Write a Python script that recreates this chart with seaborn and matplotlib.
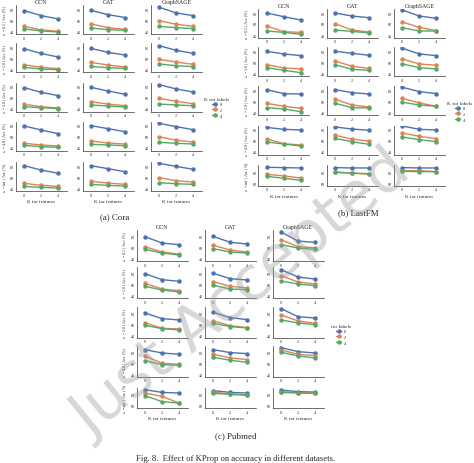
import numpy as np
import pandas as pd
import matplotlib
matplotlib.use("Agg")
import matplotlib.pyplot as plt
import seaborn as sns
from matplotlib.lines import Line2D
from matplotlib.ticker import MultipleLocator

K_FEATURES = [0, 2, 4]
K_LABELS = ["0", "2", "4"]
EPSILONS = ["0.1", "1.0", "2.0", "4.0", "inf"]
MODELS = ["GCN", "GAT", "GraphSAGE"]

# Accuracy (%): one entry per epsilon row; inside, one list per K-for-labels (0, 2, 4),
# each holding values for K-for-features = 0, 2, 4
cora_gcn = [
    [[77.6, 68.5, 62.4], [49.0, 42.4, 40.0], [44.2, 40.6, 38.8]],
    [[78.0, 69.5, 63.0], [49.0, 44.2, 41.8], [44.2, 41.2, 40.0]],
    [[78.8, 70.3, 64.2], [48.5, 44.2, 41.8], [44.2, 42.4, 40.6]],
    [[80.0, 72.7, 66.0], [48.5, 45.5, 43.6], [44.8, 42.4, 41.2]],
    [[81.8, 73.9, 67.9], [49.7, 46.0, 44.2], [44.2, 42.4, 41.2]],
]
cora_gat = [
    [[78.0, 70.3, 65.0], [53.3, 46.7, 43.6], [46.0, 43.0, 41.8]],
    [[78.8, 71.5, 66.7], [53.3, 48.5, 44.8], [46.0, 43.6, 42.4]],
    [[79.4, 72.7, 66.7], [53.3, 49.0, 46.0], [47.3, 45.5, 43.6]],
    [[80.6, 75.2, 69.7], [52.7, 49.0, 47.3], [46.7, 45.5, 44.2]],
    [[81.8, 76.4, 70.9], [53.3, 50.3, 47.9], [47.9, 46.0, 44.8]],
]
cora_sage = [
    [[83.6, 73.3, 68.5], [59.4, 52.7, 49.0], [49.0, 46.7, 44.8]],
    [[83.6, 75.2, 69.7], [58.8, 53.9, 49.7], [50.3, 47.3, 45.5]],
    [[84.2, 76.4, 70.9], [59.4, 53.9, 49.7], [49.0, 47.3, 46.0]],
    [[84.8, 78.8, 73.3], [60.6, 53.9, 50.9], [50.3, 48.5, 47.3]],
    [[86.0, 80.6, 75.2], [60.0, 54.5, 52.1], [50.9, 49.0, 47.9]],
]
lastfm_gcn = [
    [[80.0, 73.3, 67.3], [56.4, 46.0, 44.8], [47.3, 44.8, 41.2]],
    [[80.0, 75.2, 72.1], [55.8, 49.7, 47.9], [50.3, 45.5, 41.2]],
    [[81.2, 73.9, 73.3], [56.4, 50.9, 47.3], [48.5, 46.0, 41.2]],
    [[84.8, 81.2, 80.0], [63.6, 55.2, 52.7], [58.2, 54.5, 50.9]],
    [[89.1, 88.5, 87.9], [76.4, 73.3, 69.7], [72.7, 69.1, 65.5]],
]
lastfm_gat = [
    [[80.0, 74.5, 71.5], [60.6, 49.0, 45.5], [49.0, 46.7, 43.6]],
    [[80.0, 76.4, 72.7], [62.4, 52.7, 49.0], [55.8, 47.3, 45.5]],
    [[81.2, 75.8, 73.3], [63.6, 53.3, 49.7], [56.4, 48.5, 47.9]],
    [[85.5, 81.8, 79.4], [70.3, 63.6, 59.4], [64.8, 58.8, 53.9]],
    [[88.5, 87.9, 87.9], [80.6, 78.8, 76.4], [80.0, 78.2, 77.6]],
]
lastfm_sage = [
    [[85.5, 74.5, 70.3], [63.6, 53.9, 47.9], [53.3, 47.3, 47.3]],
    [[85.5, 75.2, 72.1], [66.1, 57.0, 54.5], [57.0, 50.3, 47.9]],
    [[85.5, 77.6, 73.9], [65.5, 57.0, 50.9], [58.2, 53.3, 50.9]],
    [[87.3, 81.2, 80.0], [74.5, 68.5, 64.2], [67.3, 62.4, 58.8]],
    [[88.5, 87.9, 87.9], [83.0, 83.0, 81.2], [81.8, 81.2, 81.2]],
]
pubmed_gcn = [
    [[80.0, 68.5, 65.5], [61.8, 52.1, 48.5], [57.0, 50.3, 46.7]],
    [[80.6, 69.7, 66.7], [63.0, 52.7, 49.7], [57.6, 50.9, 47.3]],
    [[80.6, 70.3, 67.9], [63.0, 52.7, 51.5], [58.2, 52.1, 49.7]],
    [[84.8, 78.8, 76.4], [73.3, 60.0, 58.2], [64.8, 57.6, 56.4]],
    [[89.1, 84.2, 83.0], [83.0, 77.0, 64.8], [78.2, 67.3, 64.8]],
]
pubmed_gat = [
    [[80.6, 69.7, 66.7], [64.2, 55.8, 52.1], [58.2, 52.1, 50.3]],
    [[81.2, 71.5, 69.1], [66.1, 57.6, 54.5], [59.4, 52.7, 51.5]],
    [[81.8, 72.1, 68.5], [66.1, 57.6, 53.9], [61.8, 55.8, 53.3]],
    [[84.8, 79.4, 77.6], [76.4, 69.7, 66.7], [70.9, 65.5, 61.8]],
    [[87.3, 84.2, 83.0], [84.2, 81.8, 80.0], [82.4, 80.6, 78.8]],
]
pubmed_sage = [
    [[88.5, 72.1, 69.7], [74.5, 61.8, 60.0], [65.5, 59.4, 57.0]],
    [[87.9, 74.5, 70.9], [77.0, 65.5, 61.8], [67.3, 61.8, 58.8]],
    [[88.5, 73.9, 71.5], [77.0, 66.1, 61.8], [67.9, 62.4, 59.4]],
    [[88.5, 81.2, 78.8], [84.2, 76.4, 73.9], [80.0, 73.3, 69.7]],
    [[88.5, 85.5, 84.8], [85.5, 83.6, 83.0], [84.2, 83.0, 82.4]],
]

CAPTIONS = ["(a) Cora", "(b) LastFM", "(c) Pubmed"]
FIG_CAPTION = "Fig. 8.  Effect of KProp on accuracy in different datasets."
LEGEND_TITLES = ["K for labels", "K for labels", "for labels"]
WATERMARK = "Just Accepted"


def to_frame(model_arrays):
    rows = []
    for m, arr in zip(MODELS, model_arrays):
        for ei, eps in enumerate(EPSILONS):
            for li, kl in enumerate(K_LABELS):
                for fi, kf in enumerate(K_FEATURES):
                    rows.append(dict(model=m, eps=eps, k_labels=kl,
                                     k_features=kf, acc=arr[ei][li][fi]))
    return pd.DataFrame(rows)


datasets = [
    to_frame([cora_gcn, cora_gat, cora_sage]),
    to_frame([lastfm_gcn, lastfm_gat, lastfm_sage]),
    to_frame([pubmed_gcn, pubmed_gat, pubmed_sage]),
]

sns.set_theme(style="white")
plt.rcParams["font.family"] = ["Liberation Serif", "DejaVu Serif"]
plt.rcParams["mathtext.fontset"] = "stix"

W, H = 474, 464
fig = plt.figure(figsize=(W / 100, H / 100), dpi=100)
palette = sns.color_palette("deep", 3)

geom = [
    dict(cols=[24.3, 91.0, 159.3], rows=[10.3, 48.7, 88.0, 127.0, 167.7],
         ylims=[(35, 88)] * 5, legend=(217, 95), caption=(115, 217)),
    dict(cols=[266.7, 335.0, 402.3], rows=[14.0, 52.3, 91.3, 131.0, 173.3],
         ylims=[(35, 88)] * 4 + [(55.5, 93.5)], legend=(460, 99), caption=(358, 213)),
    dict(cols=[145.0, 213.3, 281.0], rows=[237.7, 275.0, 314.3, 353.3, 395.7],
         ylims=[(36, 92)] * 4 + [(56, 93)], legend=(341, 322), caption=(236, 436)),
]

XLIM = (-1.0, 5.0)
SX, SY = 8.5, 0.55
MS, LW = 3.2, 1.0


def add_ax(x0, y80, ylim):
    left = x0 + XLIM[0] * SX
    width = (XLIM[1] - XLIM[0]) * SX
    top = y80 - (ylim[1] - 80) * SY
    height = (ylim[1] - ylim[0]) * SY
    return fig.add_axes([left / W, 1 - (top + height) / H, width / W, height / H])


for di, (df, g) in enumerate(zip(datasets, geom)):
    for ri, eps in enumerate(EPSILONS):
        for ci, model in enumerate(MODELS):
            ax = add_ax(g["cols"][ci], g["rows"][ri], g["ylims"][ri])
            sub = df[(df.model == model) & (df.eps == eps)]
            sns.lineplot(data=sub, x="k_features", y="acc", hue="k_labels",
                         hue_order=K_LABELS, palette=palette, marker="o",
                         markersize=MS, markeredgewidth=0, linewidth=LW,
                         legend=False, ax=ax)
            ax.set_xlim(XLIM)
            ax.set_ylim(g["ylims"][ri])
            ax.set_xticks(K_FEATURES)
            ax.yaxis.set_major_locator(MultipleLocator(20))
            ax.tick_params(labelsize=3, pad=1.2, length=0)
            sns.despine(ax=ax)
            for s in ("left", "bottom"):
                ax.spines[s].set_linewidth(0.5)
                ax.spines[s].set_color("#333333")
            if ri == 0:
                ax.set_title(model, fontsize=4.2, pad=1.5)
            if ci == 0:
                ax.set_ylabel(r"$\epsilon_x$ = " + eps + " | Acc (%)", fontsize=3, labelpad=1)
            else:
                ax.set_ylabel("")
            if ri == len(EPSILONS) - 1:
                ax.set_xlabel("K for features", fontsize=3.6, labelpad=1.5)
            else:
                ax.set_xlabel("")

    handles = [Line2D([0], [0], color=c, marker="o", markersize=MS,
                      markeredgewidth=0, linewidth=LW) for c in palette]
    lx, ly = g["legend"]
    fig.legend(handles, K_LABELS, title=LEGEND_TITLES[di], loc="upper center",
               bbox_to_anchor=(lx / W, 1 - ly / H), frameon=False, fontsize=3.2,
               title_fontsize=3.8, handlelength=1.0, handletextpad=0.6,
               labelspacing=0.35, borderpad=0.1)
    cx, cy = g["caption"]
    fig.text(cx / W, 1 - cy / H, CAPTIONS[di], ha="center", va="center", fontsize=6.4)

fig.text(236 / W, 1 - 459 / H, FIG_CAPTION, ha="center", va="center", fontsize=6.2)

fig.text(0.51, 0.365, WATERMARK, rotation=39, ha="center", va="center",
         fontsize=44, color="#9a9a9a", alpha=0.4, family="DejaVu Sans", zorder=100)

fig.savefig("out.png", dpi=100)
